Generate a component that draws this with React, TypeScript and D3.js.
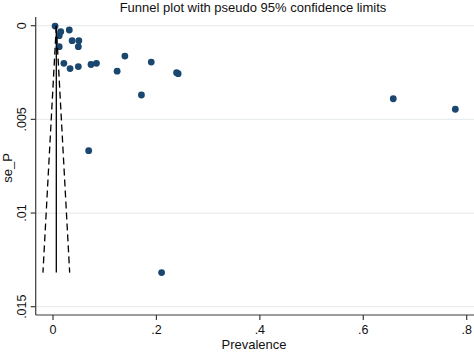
import React from "react";
import * as d3 from "d3";

// ── Data ──────────────────────────────────────────────────────
const PREVALENCE = [
  0.004, 0.015, 0.0315, 0.012, 0.037, 0.050, 0.049, 0.012, 0.021, 0.033,
  0.049, 0.0735, 0.084, 0.124, 0.139, 0.171, 0.190, 0.239, 0.242, 0.069,
  0.210, 0.658, 0.778,
];
const SE_P = [
  0.00002, 0.00032, 0.00023, 0.00053, 0.0008, 0.0008, 0.00112, 0.00112, 0.00201, 0.00229,
  0.00218, 0.00207, 0.00201, 0.00243, 0.00162, 0.0037, 0.00194, 0.00251, 0.00256, 0.00667,
  0.01318, 0.0039, 0.00446,
];

const POOLED = 0.0064;
const FUNNEL_SE = [0, 0.01318];

const X_TICKS = [0, 0.2, 0.4, 0.6, 0.8];
const X_TICK_LABELS = ["0", ".2", ".4", ".6", ".8"];
const Y_TICKS = [0, 0.005, 0.01, 0.015];
const Y_TICK_LABELS = ["0", ".005", ".01", ".015"];

// ── Geometry ──────────────────────────────────────────────────
const W = 474;
const H = 353;
const AXIS_X = 35.7;
const AXIS_Y = 315;
const FONT = "'Liberation Sans', Arial, Helvetica, sans-serif";
const NAVY = "#1a476f";

export default function App() {
  const x = d3.scaleLinear().domain([0, 0.8]).range([53, 466.7]);
  const y = d3.scaleLinear().domain([0, 0.015]).range([25.7, 306.7]);

  // pooled line (k = 0) and pseudo 95% limits (k = ±1)
  const funnel = (k: number) =>
    d3
      .line<number>()
      .x((se) => x(POOLED + k * 1.96 * se))
      .y((se) => y(se))(FUNNEL_SE) ?? "";

  return (
    <svg
      width={W}
      height={H}
      style={{ position: "absolute", left: 0, top: 0, background: "#fff" }}
      fontFamily={FONT}
    >
      {/* gridlines */}
      {Y_TICKS.map((t) => (
        <line
          key={t}
          x1={AXIS_X}
          x2={W}
          y1={y(t)}
          y2={y(t)}
          stroke="#e9eded"
          strokeWidth={1.2}
        />
      ))}

      {/* axes */}
      <line x1={AXIS_X} x2={AXIS_X} y1={17} y2={AXIS_Y} stroke="#3a3a3a" strokeWidth={1.2} />
      <line x1={AXIS_X} x2={W} y1={AXIS_Y} y2={AXIS_Y} stroke="#3a3a3a" strokeWidth={1.2} />

      {Y_TICKS.map((t, i) => (
        <g key={t}>
          <line x1={AXIS_X - 5} x2={AXIS_X} y1={y(t)} y2={y(t)} stroke="#3a3a3a" strokeWidth={1.2} />
          <text
            transform={`translate(25.5,${y(t)}) rotate(-90)`}
            textAnchor="middle"
            fontSize={12.5}
            fill="#111"
          >
            {Y_TICK_LABELS[i]}
          </text>
        </g>
      ))}

      {X_TICKS.map((t, i) => (
        <g key={t}>
          <line x1={x(t)} x2={x(t)} y1={AXIS_Y} y2={AXIS_Y + 5} stroke="#3a3a3a" strokeWidth={1.2} />
          <text x={x(t)} y={333.5} textAnchor="middle" fontSize={12.5} fill="#111">
            {X_TICK_LABELS[i]}
          </text>
        </g>
      ))}

      {/* points */}
      {PREVALENCE.map((p, i) => (
        <circle key={i} cx={x(p)} cy={y(SE_P[i])} r={3.4} fill={NAVY} />
      ))}

      {/* funnel */}
      <path d={funnel(0)} stroke="#000" strokeWidth={1.3} fill="none" />
      <path d={funnel(-1)} stroke="#000" strokeWidth={1.3} strokeDasharray="7,4" fill="none" />
      <path d={funnel(1)} stroke="#000" strokeWidth={1.3} strokeDasharray="7,4" fill="none" />

      {/* titles */}
      <text x={253} y={12} textAnchor="middle" fontSize={13} fill="#111">
        Funnel plot with pseudo 95% confidence limits
      </text>
      <text x={254} y={348.5} textAnchor="middle" fontSize={13} fill="#111">
        Prevalence
      </text>
      <text
        transform={`translate(11.5,168) rotate(-90)`}
        textAnchor="middle"
        fontSize={13}
        fill="#111"
      >
        se_P
      </text>
    </svg>
  );
}
